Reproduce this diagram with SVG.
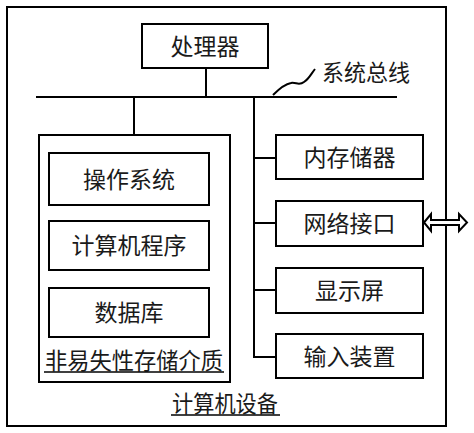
<svg xmlns="http://www.w3.org/2000/svg" width="474" height="433" viewBox="0 0 474 433">
<style>
.box{fill:#fff;stroke:#000;stroke-width:2}
.ln{fill:none;stroke:#000;stroke-width:2}
.t{font-family:"Noto Sans CJK SC","Noto Sans CJK JP",sans-serif;font-size:23px;fill:#1a1a1a;text-anchor:middle}
.ul{stroke:#000;stroke-width:1.3}
</style>
<rect width="474" height="433" fill="#fff"/>
<g id="computer">
<rect class="box" x="7" y="7" width="439" height="419"/>
<text class="t" x="225" y="412" textLength="106" lengthAdjust="spacingAndGlyphs">计算机设备</text>
<line class="ul" x1="171" y1="415" x2="280" y2="415"/>
</g>
<g id="connectors">
<line class="ln" x1="206" y1="68" x2="206" y2="97"/>
<line class="ln" x1="36" y1="97" x2="397" y2="97"/>
<line class="ln" x1="134" y1="97" x2="134" y2="135"/>
<line class="ln" x1="254" y1="97" x2="254" y2="358"/>
<line class="ln" x1="253" y1="158" x2="276" y2="158"/>
<line class="ln" x1="253" y1="223" x2="276" y2="223"/>
<line class="ln" x1="253" y1="290" x2="276" y2="290"/>
<line class="ln" x1="253" y1="357" x2="276" y2="357"/>
<path class="ln" d="M273,95 C279,89 285,84 291,83 C296,82 299,86 304,82 C309,79 311,74 315,69"/>
<path fill="#fff" stroke="#000" stroke-width="2" d="M424,222.5 L431,214 L431,220 L459,220 L459,214 L467,222.5 L459,231 L459,225 L431,225 L431,231 Z"/>
</g>
<g id="bus-label">
<text class="t" x="366" y="81" textLength="88" lengthAdjust="spacingAndGlyphs">系统总线</text>
</g>
<g id="processor">
<rect class="box" x="142" y="24" width="126" height="44"/>
<text class="t" x="205" y="54.5">处理器</text>
</g>
<g id="nvm">
<rect class="box" x="39" y="135" width="191" height="247"/>
<text class="t" x="134" y="369" textLength="178" lengthAdjust="spacingAndGlyphs">非易失性存储介质</text>
<line class="ul" x1="44" y1="372" x2="224" y2="372"/>
</g>
<g id="os">
<rect class="box" x="49" y="153" width="160" height="52"/>
<text class="t" x="129" y="187.5">操作系统</text>
</g>
<g id="program">
<rect class="box" x="49" y="221" width="160" height="49"/>
<text class="t" x="129" y="254">计算机程序</text>
</g>
<g id="database">
<rect class="box" x="49" y="288" width="160" height="49"/>
<text class="t" x="129" y="321">数据库</text>
</g>
<g id="memory">
<rect class="box" x="276" y="135" width="147" height="44"/>
<text class="t" x="349.5" y="165.5">内存储器</text>
</g>
<g id="network">
<rect class="box" x="276" y="201" width="147" height="45"/>
<text class="t" x="349.5" y="232">网络接口</text>
</g>
<g id="display">
<rect class="box" x="276" y="268" width="147" height="45"/>
<text class="t" x="349.5" y="299">显示屏</text>
</g>
<g id="input">
<rect class="box" x="276" y="334" width="147" height="44"/>
<text class="t" x="349.5" y="364.5">输入装置</text>
</g>
</svg>
